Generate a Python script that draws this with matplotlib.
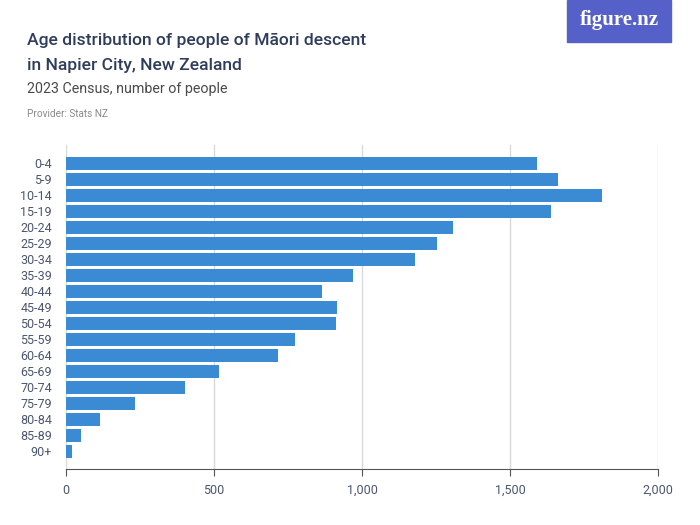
import matplotlib
matplotlib.use("Agg")
from matplotlib import pyplot as plt
from matplotlib.patches import Rectangle
from matplotlib.ticker import FuncFormatter

# data
ageGroups = ["0-4", "5-9", "10-14", "15-19", "20-24", "25-29", "30-34", "35-39",
             "40-44", "45-49", "50-54", "55-59", "60-64", "65-69", "70-74",
             "75-79", "80-84", "85-89", "90+"]
people = [1591, 1661, 1811, 1640, 1306, 1252, 1178, 971, 866, 917, 913,
          773, 716, 517, 402, 233, 116, 50, 20]
xTicks = [0, 500, 1000, 1500, 2000]

titleLines = ["Age distribution of people of M\u0101ori descent", "in Napier City, New Zealand"]
subtitle = "2023 Census, number of people"
provider = "Provider: Stats NZ"

plt.rcParams["font.family"] = ["Roboto", "DejaVu Sans"]

barColor = "#3a8bd3"
textColor = "#4b5670"
gridColor = "#d9d9d9"

fig = plt.figure(figsize=(7, 5.25), dpi=100)
ax = fig.add_axes([0.0943, 0.1067, 0.8457, 0.6171])

ax.barh(range(len(people)), people, height=0.8, color=barColor, zorder=3)
ax.set_yticks(range(len(ageGroups)))
ax.set_yticklabels(ageGroups)
ax.set_ylim(19.1, -1.14)
ax.set_xlim(0, 2000)
ax.set_xticks(xTicks)
ax.xaxis.set_major_formatter(FuncFormatter(lambda v, p: f"{int(v):,}"))

ax.grid(axis="x", color=gridColor, linewidth=1, zorder=0)
for side in ["top", "right", "left"]:
	ax.spines[side].set_visible(False)
ax.spines["bottom"].set_color("#555555")
ax.tick_params(axis="y", length=0, pad=10, labelsize=9, labelcolor=textColor)
ax.tick_params(axis="x", length=5, color="#555555", pad=6, labelsize=9, labelcolor=textColor)

# header
for i, line in enumerate(titleLines):
	fig.text(27 / 700, 1 - (45 + 25 * i) / 525, line, fontsize=12.6, color="#2f3d5c",
		va="baseline", fontweight="medium")
fig.text(27 / 700, 1 - 93 / 525, subtitle, fontsize=10.3, color="#4a4a4a", va="baseline")
fig.text(27 / 700, 1 - 117 / 525, provider, fontsize=7.2, color="#8a8a8a", va="baseline")

# logo box
fig.patches.append(Rectangle((567 / 700, 1 - 42 / 525), 104 / 700, 42 / 525,
	transform=fig.transFigure, color="#5560c8"))
fig.text(619 / 700, 1 - 20 / 525, "figure.nz", fontsize=15, color="white",
	ha="center", va="center", family="Liberation Serif", fontweight="bold")

fig.savefig("out.png", dpi=100)
